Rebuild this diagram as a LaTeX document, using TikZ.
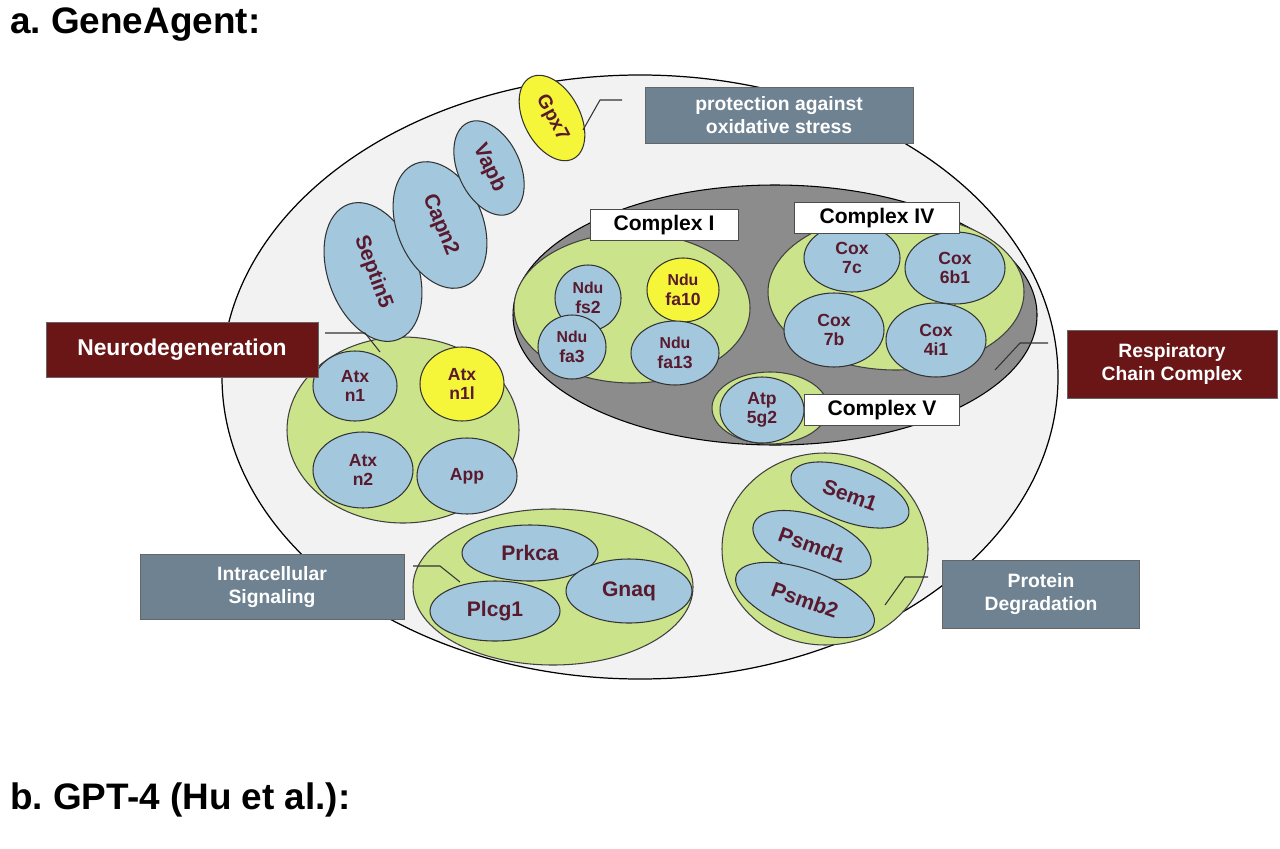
\documentclass[tikz,border=0pt]{standalone}
\usepackage{fontspec}
\setmainfont{Liberation Sans}
\frenchspacing
\begin{document}
\begin{tikzpicture}[x=0.02cm,y=-0.02cm,
 gt/.style={text=gtxt,font=\bfseries\fontsize{10}{11}\selectfont,align=center},
 grp/.style={draw=black!75,line width=0.6pt,fill=greeng},
 graybox/.style={draw=black!60,fill=boxg,text=white,font=\bfseries\fontsize{11}{13}\selectfont,align=center},
 redbox/.style={draw=black!60,fill=boxr,text=white,font=\bfseries\fontsize{11}{13}\selectfont,align=center},
 whitebox/.style={draw=black!70,fill=white,text=black,font=\bfseries\fontsize{12}{14}\selectfont},
 conn/.style={draw=black!80,line width=0.6pt}]
\definecolor{blueg}{HTML}{A3C8DE}
\definecolor{greeng}{HTML}{CBE38A}
\definecolor{yel}{HTML}{F5F53A}
\definecolor{gtxt}{HTML}{5A1A2E}
\definecolor{boxg}{HTML}{6E8291}
\definecolor{boxr}{HTML}{6B1616}
\useasboundingbox (0,0) rectangle (1280,848);
\fill[white] (0,0) rectangle (1280,848);
\node[anchor=west,font=\bfseries\fontsize{21}{25}\selectfont] (ta) at (4,25) {a. GeneAgent:};
\node[anchor=west,font=\bfseries\fontsize{21}{25}\selectfont] (tb) at (4,800) {b. GPT-4 (Hu et al.):};
% outer
\draw[fill=black!5,line width=0.7pt] (640,377) ellipse [x radius=418, y radius=-302];
\draw[fill=black!45,line width=0.6pt] (775,315) ellipse [x radius=262, y radius=-130];
% groups
\draw[grp] (632,308) ellipse [x radius=118,y radius=-75];
\draw[grp] (896,292) ellipse [x radius=128,y radius=-78];
\draw[grp] (770,408) ellipse [x radius=58,y radius=-36];
\draw[grp] (403,430) ellipse [x radius=116,y radius=-93];
\draw[grp] (553,587) ellipse [x radius=140,y radius=-78];
\draw[grp] (825,549) ellipse [x radius=103,y radius=-96];
\newcommand{\gn}[7]{\draw[draw=black!80,line width=0.6pt,fill=#6,rotate around={#5:(#1,#2)}] (#1,#2) ellipse [x radius=#3,y radius=-#4];
 \node[gt,rotate=#5] at (#1,#2) {#7};}
\gn{588}{298}{33}{33}{0}{blueg}{\fontsize{9}{10}\selectfont Ndu\\fs2}
\gn{683}{290}{36}{32}{0}{yel}{\fontsize{9}{10}\selectfont Ndu\\fa10}
\gn{572}{347}{34}{32}{0}{blueg}{\fontsize{9}{10}\selectfont Ndu\\fa3}
\gn{675}{353}{44}{32}{0}{blueg}{\fontsize{9}{10}\selectfont Ndu\\fa13}
\gn{852}{258}{48}{34}{0}{blueg}{Cox\\7c}
\gn{955}{268}{50}{36}{0}{blueg}{Cox\\6b1}
\gn{834}{330}{50}{37}{0}{blueg}{Cox\\7b}
\gn{936}{340}{50}{37}{0}{blueg}{Cox\\4i1}
\gn{762}{410}{42}{33}{0}{blueg}{Atp\\5g2}
\gn{355}{386}{42}{35}{0}{blueg}{Atx\\n1}
\gn{462}{384}{42}{37}{0}{yel}{Atx\\n1l}
\gn{363}{470}{50}{38}{0}{blueg}{Atx\\n2}
\gn{467}{476}{50}{38}{0}{blueg}{App}
\gn{530}{553}{68}{28}{0}{blueg}{\fontsize{12}{14}\selectfont Prkca}
\gn{629}{591}{63}{32}{0}{blueg}{\fontsize{12}{14}\selectfont Gnaq}
\gn{495}{611}{65}{30}{0}{blueg}{\fontsize{12}{14}\selectfont Plcg1}
\gn{850}{495}{62}{27}{-20}{blueg}{\fontsize{12}{14}\selectfont Sem1}
\gn{812}{545}{62}{29}{-20}{blueg}{\fontsize{12}{14}\selectfont Psmd1}
\gn{805}{600}{73}{30}{-20}{blueg}{\fontsize{12}{14}\selectfont Psmb2}
\gn{373}{272}{72}{45}{-70}{blueg}{\fontsize{12}{14}\selectfont Septin5}
\gn{440}{225}{66}{43}{-68}{blueg}{\fontsize{12}{14}\selectfont Capn2}
\gn{489}{168}{50}{31}{-65}{blueg}{\fontsize{12}{14}\selectfont Vapb}
\gn{552}{118}{46}{28}{-62}{yel}{\fontsize{11}{13}\selectfont Gpx7}
% label boxes
\node[graybox,minimum width=268*0.02cm,minimum height=56*0.02cm] (ox) at (779,115) {protection against\\oxidative stress};
\node[whitebox,minimum width=148*0.02cm,minimum height=30*0.02cm] (c1) at (664,225) {Complex I};
\node[whitebox,minimum width=165*0.02cm,minimum height=30*0.02cm] (c4) at (877,218) {Complex IV};
\node[whitebox,minimum width=155*0.02cm,minimum height=30*0.02cm] (c5) at (882,410) {Complex V};
\node[redbox,minimum width=272*0.02cm,minimum height=55*0.02cm,font=\bfseries\fontsize{13}{15}\selectfont] (nd) at (182,350) {Neurodegeneration};
\node[redbox,minimum width=210*0.02cm,minimum height=68*0.02cm] (rc) at (1172,364) {Respiratory\\Chain Complex};
\node[graybox,minimum width=264*0.02cm,minimum height=65*0.02cm] (is) at (272,587) {Intracellular\\Signaling};
\node[graybox,minimum width=197*0.02cm,minimum height=68*0.02cm] (pd) at (1041,594) {Protein\\Degradation};
% connectors
\coordinate (g1) at (583,130); \coordinate (n1) at (380,352); \coordinate (r1) at (995,370);
\coordinate (i1) at (460,582); \coordinate (p1) at (885,605);
\draw[conn] (g1) -- (600,100) -- (622,100);
\draw[conn] (325,333) -- (365,333) -- (n1);
\draw[conn] (1048,343) -- (1020,343) -- (r1);
\draw[conn] (413,566) -- (440,566) -- (i1);
\draw[conn] (928,577) -- (905,577) -- (p1);
\end{tikzpicture}
\end{document}
